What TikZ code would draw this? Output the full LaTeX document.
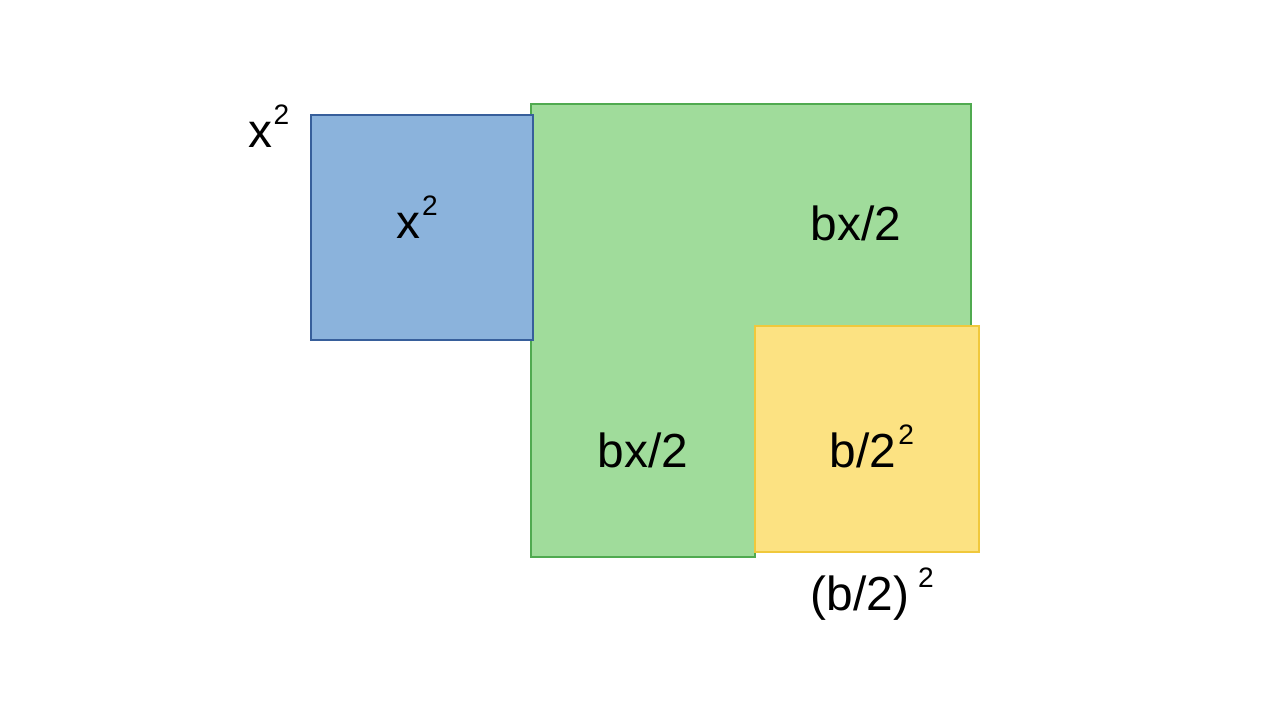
\documentclass[tikz,border=0pt]{standalone}
\usepackage{fontspec}
\setmainfont{Liberation Sans}
\definecolor{bluefill}{RGB}{139,179,220}
\definecolor{blueline}{RGB}{55,95,155}
\definecolor{greenfill}{RGB}{160,220,155}
\definecolor{greenline}{RGB}{80,170,80}
\definecolor{yellowfill}{RGB}{252,226,130}
\definecolor{yellowline}{RGB}{240,200,60}
\newcommand\supII [1][0pt]{\hspace{#1}\raisebox{6.3pt}{\fontsize{8}{9}\selectfont 2}}
\tikzset{
  every node/.style={font=\fontsize{13.6}{16}\selectfont,anchor=base west,inner sep=0pt},
  area/.style={draw=#1line,fill=#1fill,line width=0.5pt}
}
\begin{document}
\begin{tikzpicture}[x=0.01cm,y=-0.01cm]
  \useasboundingbox (0,0) rectangle (1280,720);

  \draw [area=green]  (531,104) -- (971,104) -- (971,326) -- (755,326) -- (755,557) -- (531,557) -- cycle;
  \draw [area=blue]   (311,115) rectangle (533,340);
  \draw [area=yellow] (755,326) rectangle (979,552);
  \node (xlab)   at (248,147) {x\supII[0.3pt]};
  \node (xin)    at (396,238) {x\supII[0.4pt]};
  \node (bxtop)  at (810,240) {bx/2};
  \node (bxbot)  at (597,467) {bx/2};
  \node (bin)    at (829,467) {b/2\supII[0.6pt]};
  \node (blab)   at (810,610) {(b/2)\supII[2.6pt]};

\end{tikzpicture}
\end{document}
